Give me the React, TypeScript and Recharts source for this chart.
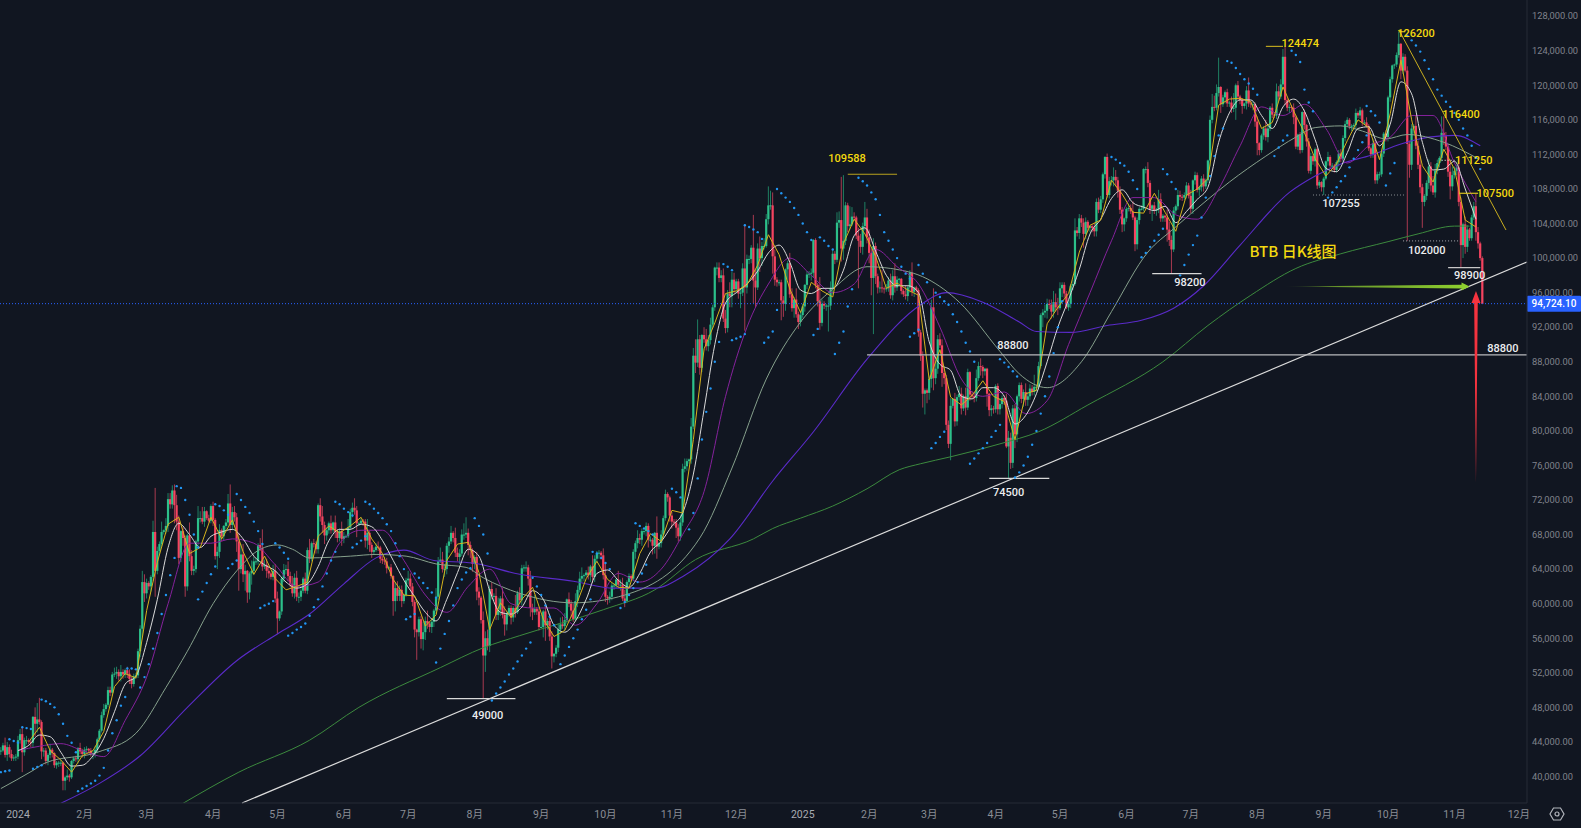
import React from "react";
import { Bar, ComposedChart, Line, ReferenceDot, ReferenceLine, XAxis, YAxis } from "recharts";

// all prices in thousands, days counted from 2024-01-01
const firstDay = -8;
const closes = [
  43.0,43.6,42.5,43.4,42.6,42.1,42.2,42.3,
  44.2,44.9,42.8,44.2,44.2,44.0,43.9,46.9,46.1,46.6,46.3,42.9,43.0,41.8,42.5,43.1,42.7,41.3,41.6,41.6,41.6,39.5,39.9,40.1,39.9,41.8,42.1,42.0,43.3,42.9,42.6,
  43.1,43.2,43.0,42.6,42.7,43.1,44.3,45.3,47.1,47.8,48.3,50.0,49.7,51.8,51.9,52.1,51.6,52.1,51.8,52.3,51.9,51.3,50.7,51.6,51.7,54.5,57.1,62.5,61.2,
  62.4,62.0,63.1,68.3,63.8,66.1,66.9,68.3,68.5,69.0,72.1,71.5,73.1,71.4,69.5,65.3,68.4,67.6,62.0,67.9,65.5,63.8,64.0,67.2,69.9,69.9,69.5,70.7,69.9,69.6,71.3,
  69.7,65.5,66.0,68.5,67.8,69.0,69.4,71.6,69.1,70.6,70.0,67.2,64.0,65.7,63.4,63.8,61.3,63.5,63.8,64.9,64.9,66.8,66.4,64.3,64.5,63.8,63.5,63.1,63.8,60.6,
  58.3,59.1,62.9,63.9,64.0,63.2,62.3,61.2,63.0,60.8,60.8,61.5,62.9,61.5,66.2,65.2,67.0,66.9,66.3,71.4,70.1,69.1,67.9,68.5,69.3,68.5,69.4,68.3,67.6,68.4,67.5,
  67.8,67.8,68.8,70.6,71.1,70.8,69.3,69.3,69.6,69.5,67.3,68.2,66.8,66.0,66.2,66.6,66.5,65.2,65.0,64.9,64.1,64.2,63.2,60.3,61.8,60.9,61.6,60.3,61.0,62.7,
  62.9,62.0,60.2,57.0,56.7,58.2,55.9,56.7,58.0,57.7,57.3,57.9,59.2,60.8,64.9,65.1,64.0,64.0,66.7,67.2,68.2,67.6,65.9,65.4,65.8,68.0,68.0,68.2,66.8,66.2,64.6,
  65.4,61.4,60.7,58.1,54.0,56.0,55.1,61.7,60.9,60.9,58.7,59.3,60.6,58.7,57.6,58.9,59.5,58.4,59.5,59.0,61.2,60.4,64.1,64.2,64.2,62.9,59.5,59.0,59.4,59.1,57.3,
  57.3,59.1,57.5,58.0,56.2,53.9,54.2,54.9,57.0,57.6,57.4,58.1,60.5,60.0,59.2,58.2,60.3,61.6,62.9,63.2,63.3,63.6,63.3,64.3,63.1,65.2,65.8,65.9,65.6,63.3,
  60.8,60.6,60.8,62.1,62.1,62.8,62.2,62.2,60.6,60.3,62.5,63.2,62.9,66.0,67.0,67.6,67.4,68.4,68.4,69.0,67.4,67.4,66.7,68.2,66.6,67.0,68.0,69.9,72.7,72.3,70.2,
  69.5,69.4,68.8,67.8,69.4,75.6,75.9,76.5,76.7,80.5,88.7,87.9,90.6,87.3,91.1,90.6,89.8,90.5,92.3,94.3,98.9,98.9,97.7,98.0,93.0,91.9,95.9,95.6,97.5,96.4,
  97.3,95.9,96.0,98.8,96.6,99.9,99.9,101.2,97.4,96.6,101.1,100.0,101.4,101.4,104.5,106.1,106.1,100.2,97.5,97.2,97.2,95.1,94.7,98.7,99.4,95.8,94.2,95.2,93.5,92.6,93.4,
  94.4,96.9,98.1,98.2,98.3,102.1,96.9,95.0,92.5,94.7,94.5,94.5,94.5,96.5,100.5,99.8,104.1,104.4,101.1,102.0,106.1,103.7,103.9,104.8,104.7,102.6,102.0,101.3,103.7,104.7,102.4,
  100.6,97.7,101.4,97.9,96.6,96.6,96.5,96.4,96.5,97.4,95.7,97.9,96.6,97.5,97.6,96.2,95.8,95.6,96.6,98.3,96.1,96.6,96.3,91.4,88.7,84.3,84.7,84.4,
  86.0,94.3,86.1,87.2,90.6,89.9,86.7,86.1,80.7,78.5,82.9,83.7,81.1,83.9,84.3,82.6,84.0,82.7,86.8,84.2,84.0,83.8,86.1,87.5,87.4,86.9,87.2,84.3,82.4,82.6,82.5,
  85.2,82.5,83.1,83.8,83.5,78.2,79.2,76.3,82.6,79.6,84.0,85.3,83.7,84.5,83.6,84.0,84.9,84.5,85.1,85.1,87.5,93.4,93.7,93.9,94.7,94.6,93.8,94.9,94.3,94.2,
  96.5,96.9,95.9,94.3,94.7,96.8,97.0,103.2,102.9,104.6,104.1,102.8,104.2,103.5,103.7,103.5,103.1,106.5,105.6,106.8,109.7,111.7,107.3,108.9,109.0,109.4,109.0,107.8,105.6,103.9,104.6,
  105.7,105.8,105.4,104.7,101.6,104.4,105.7,105.7,110.3,110.3,108.7,105.7,106.1,105.5,105.6,106.8,104.6,104.9,104.7,103.3,102.1,101.0,105.5,106.0,107.3,107.1,107.0,107.3,108.4,107.2,
  105.7,109.0,109.6,107.9,108.2,109.2,108.3,109.0,111.3,116.0,117.5,117.4,119.1,119.8,117.8,118.6,119.2,117.9,118.0,117.3,117.4,120.0,118.7,118.3,117.6,117.9,119.4,117.9,117.8,117.8,115.8,
  113.3,112.5,114.2,115.0,114.0,115.0,117.4,116.6,116.5,119.3,118.7,120.1,123.3,118.3,117.4,117.5,117.4,116.3,112.9,114.3,112.5,116.9,115.4,113.5,110.1,111.8,111.2,112.6,108.4,108.8,108.2,
  109.2,111.2,111.7,110.7,110.7,110.2,111.1,112.1,111.5,113.9,115.5,116.0,115.3,115.3,115.4,116.8,116.5,117.1,115.7,115.7,115.3,112.7,112.0,113.3,109.0,109.7,109.7,112.1,114.4,114.0,
  118.6,120.7,122.3,122.4,123.5,124.8,121.7,123.3,121.7,113.2,110.8,115.0,115.3,113.0,110.8,108.2,106.5,107.2,108.7,110.6,108.4,107.6,110.1,111.0,111.6,114.5,114.1,112.9,110.0,108.3,109.6,
  110.1,110.5,106.5,101.5,103.9,101.3,103.3,102.3,104.7,106.0,103.0,101.7,100.0,94.7,
];

const upperWicks = [
  .4,.3,.9,.6,.3,.5,.3,.3,
  .5,.6,.7,.3,.5,.2,.3,.1,1.1,1.9,2.5,.2,.3,.3,.2,.7,.2,.1,.2,.2,.3,.1,.2,.7,.2,.1,.2,.3,.1,.6,.3,
  .3,.3,.1,.3,.3,.4,.2,.2,.4,.6,.2,.4,.4,.3,.7,.6,.3,.8,.3,.2,.4,.5,.2,.3,.3,.3,.4,1.3,.9,
  .5,.2,.2,1.3,5.1,.5,.3,1.2,.1,.9,.7,.7,.6,.7,1.2,.7,.1,.5,.3,.2,1.5,.7,.4,.2,1.4,.8,1.3,.5,.1,.4,.2,
  .5,.2,.6,.7,.2,.1,.4,1.1,2.2,.6,.7,.5,1.0,1.2,1.2,.7,.1,.2,1.2,.5,.3,.2,.8,2.2,.6,.7,.5,.2,.7,.8,
  .8,.1,.2,.7,.5,.9,.5,.9,.5,.8,.5,.3,.2,.7,.3,1.3,.2,.5,.3,.2,.8,1.2,.4,.3,.2,.9,.1,.8,.3,.3,1.1,
  .5,.2,1.0,.4,.6,1.1,.5,.2,.3,.2,.3,1.6,.2,.3,.3,.4,.6,.2,.3,.4,.4,.2,.4,.1,.7,.8,.5,.5,.1,.3,
  .9,.6,.4,.2,.1,.3,.4,1.2,.5,1.2,.2,.3,.2,1.0,.5,1.4,.9,.6,.3,.5,.8,.2,1.2,.6,.5,.6,1.3,1.8,.5,.4,.2,
  .2,.6,.5,.2,1.0,.8,1.0,.4,.8,.3,.9,1.4,.3,1.2,1.0,.2,.3,.3,.2,1.5,.3,.7,.4,.3,.7,.3,.9,.5,1.6,.2,.3,
  1.4,.2,.8,.3,.5,.6,.1,.3,.7,.8,.9,.8,.1,.8,.4,.8,.9,.5,.8,1.0,.2,.3,.7,.2,1.3,.4,.3,.3,.2,.8,
  1.4,.2,.6,.3,.3,.1,1.0,.6,.8,1.0,.2,.3,.2,.3,.3,.9,.5,.3,.1,.4,.3,.4,.2,.1,1.9,.2,.5,.3,.5,.2,.2,
  .4,.3,.4,.4,.9,.6,.9,.3,.1,1.0,.9,1.9,2.3,.5,.1,.9,1.2,.6,.8,.3,.1,.6,.6,.6,.8,1.0,.4,1.3,.9,.8,
  .3,.3,.3,.6,5.1,.5,.4,.3,3.8,1.3,.6,1.4,.5,.9,.6,2.2,1.7,1.5,.8,.3,.3,.3,.5,.1,.3,1.2,.7,.3,1.3,.3,.5,
  .3,.1,.4,.3,.5,.1,.2,.2,2.8,.5,.3,.2,1.0,.8,.4,.3,1.2,1.0,5.0,7.6,.4,.3,2.1,1.1,.5,.2,.9,.8,.4,1.8,1.0,
  .9,.5,.9,.4,.3,.7,2.0,.2,.5,.4,.8,.7,1.5,.4,.1,.1,.2,1.0,.3,.3,1.2,.1,.2,.2,.3,.5,.2,.2,
  .4,.9,2.2,1.5,.5,.7,.7,.6,.4,.5,.9,.1,.7,.3,.9,.7,.2,1.0,.4,.1,.4,.5,1.0,.5,.9,.2,.1,.1,.1,.4,.3,
  .2,.3,.7,.3,.3,.8,.8,.6,.4,.5,.2,.3,.3,.3,1.0,.5,.5,.4,1.4,.3,.5,.2,.4,.7,.6,.5,.6,1.3,1.0,1.1,
  .7,.3,.3,.3,.3,.2,.5,1.4,.4,.5,.4,.5,.5,.2,.1,.2,.6,.4,.5,.4,.2,.1,.4,.5,.5,1.1,.8,.4,.5,.3,.1,
  .2,.5,.4,1.2,.2,.3,.2,.4,.1,.3,.8,.3,.1,.4,.2,1.1,.7,.2,.1,.9,.9,.5,.4,.2,.6,.5,.3,.3,.4,.3,
  .7,.1,.4,.3,.2,.3,.5,.2,.1,.5,1.5,1.3,1.0,3.4,.1,.3,.2,.4,.2,.7,1.7,.2,.5,.2,.2,.1,.5,1.5,.3,.4,.2,
  .6,.1,.2,.3,1.0,.5,.2,.5,.1,.9,.6,.6,.9,1.2,.2,.3,.2,.5,.2,.1,.3,.1,.3,.1,.4,.4,.2,.2,.2,.2,.1,
  .2,.1,.6,.2,.3,.2,.2,.4,.5,.3,.4,.3,.2,.2,.2,.5,.2,.4,.2,.3,.6,.2,.2,.5,.4,.3,.3,.2,.2,.4,
  .2,.3,.1,.1,.3,1.4,.1,.4,.3,.5,.4,.5,.2,1.2,.6,1.0,.4,.2,.3,.8,.5,1.1,.8,.4,.2,1.9,1.9,.5,.3,1.4,1.0,
  .5,.3,1.3,.5,.2,.9,.5,.2,.3,.5,1.5,.6,.2,.2,
];

const lowerWicks = [
  .5,.2,.3,.7,.4,.3,.3,.4,
  .3,.4,2.3,.4,.5,.3,.5,.6,1.5,1.0,.3,.9,.6,.4,.5,.4,.5,.3,.4,.5,.4,1.1,1.1,.3,.5,.2,.3,.3,.5,.3,.4,
  .5,.4,.2,.3,.6,.5,.4,.3,.2,.3,.3,.3,.4,.4,.3,.6,.5,.6,.5,.4,.5,.6,.5,.3,.3,.3,.7,.9,1.0,
  .6,.4,.6,.5,3.0,.4,.5,.3,.3,.4,.7,.5,.5,2.1,1.0,.7,.5,.9,1.2,.5,.6,.5,.5,.4,.5,.5,.3,.6,.2,.2,.3,
  .7,.4,1.5,.7,.6,.5,.5,.5,.9,.6,.5,1.2,2.5,.5,.9,1.9,1.2,.8,1.3,.5,.4,.4,.3,.5,.3,.8,.6,.3,.4,.5,
  1.8,.3,.4,.4,.5,.6,.4,.4,.6,.5,.7,.5,.3,.3,.4,.5,.3,.4,.5,.5,.6,.9,1.0,.6,.4,.4,.3,.7,.5,.4,.8,
  .5,.2,.2,.3,.6,.5,1.6,.3,.2,.5,.8,1.0,.8,.7,.3,.2,.4,.5,.4,.4,.6,.2,.3,1.7,1.2,.6,.6,.7,.3,.2,
  .5,.4,.5,.9,3.2,.5,1.1,1.3,.9,.6,.6,.7,.6,.4,.4,.2,.4,.9,.6,.8,.3,.5,.5,.5,.8,.3,.6,.4,1.2,.9,.9,
  .6,1.0,.9,.4,5.0,1.9,.5,.7,.4,.6,.6,.6,.7,.4,1.3,.7,.4,.8,.5,.6,.2,.4,.6,.4,.5,.8,1.0,.9,.3,.4,.4,
  .1,1.2,1.8,.5,.5,1.4,.7,.4,.5,.5,.3,.5,.4,.4,.8,.3,.2,.7,.3,.4,.6,.2,.5,.8,.7,.6,.4,.6,.5,.5,
  .6,.7,.5,.4,.5,.3,.4,.7,.3,.7,.2,.4,.3,.3,.8,.6,.5,.7,.4,.6,.9,.3,1.0,.9,1.4,.3,.5,.5,.3,.5,.7,
  .8,.4,1.2,.6,.5,.4,.4,.5,.3,.5,.3,1.2,.5,.8,.5,.4,.5,.6,.5,.4,.4,.9,.5,.5,.4,.6,.5,1.3,1.3,.5,
  .5,.6,1.7,.4,5.0,.7,.6,.5,2.6,2.3,.3,1.6,.9,.4,.2,.6,.5,2.0,.7,.5,.4,2.3,1.5,.8,1.2,.4,.4,1.1,.4,.8,.5,
  .3,.6,.5,.4,.8,.6,.4,.6,.8,.4,.4,.6,3.0,.5,.7,.5,.3,.6,1.5,1.3,.5,.7,.4,.2,.4,.4,5.5,.7,.9,.5,.7,
  1.2,2.0,6.5,.9,.7,.6,.5,.5,.3,.4,.4,.6,.6,.4,.5,.4,.3,.4,.6,.6,.5,.6,.3,.5,.6,1.6,2.4,1.2,
  .8,1.0,1.4,.7,.6,.3,1.6,.7,.6,.5,1.9,.3,.6,.5,.4,.7,.3,.9,.3,.7,.3,.5,.4,.3,1.0,.8,.5,1.5,.7,.7,.5,
  .4,.6,.6,.5,.5,.2,3.7,.7,.6,1.6,.9,.6,.5,.9,.7,.7,.4,.4,.4,.5,.3,.3,1.4,.6,.9,.5,.8,.7,.5,.8,
  .2,1.0,.5,.2,.4,.5,.5,.2,.4,.7,.5,1.6,.6,.4,.5,.5,.6,.6,.4,.4,.4,.5,.3,.4,.5,.7,.7,.8,.5,.9,.8,
  .4,.3,.3,.3,.8,.6,.5,.2,.3,.5,.5,.6,1.4,.4,.6,.4,.4,.4,.5,1.4,.7,2.8,.3,.4,.4,.4,.4,.3,.4,.3,
  .5,.6,.5,.3,.7,.5,.6,.3,.3,.7,.4,.4,.3,.4,1.0,.3,.7,.4,.4,.5,.4,1.4,.4,.5,.9,.3,.7,.4,.4,.7,.6,
  1.4,.6,.3,.5,.4,.6,.3,.4,.3,.4,.5,.3,.4,.6,.4,.6,.5,.8,.3,.4,.4,.3,.5,.6,.3,.4,.4,.6,.4,.3,.5,
  .9,.2,.5,.3,.4,.3,.3,.5,.4,.4,.4,.3,.4,.6,.5,.4,.3,.4,.4,.3,.2,.3,.4,.4,.4,.4,.5,.3,.4,.5,
  .5,.5,.4,.4,.3,.3,1.0,.4,.2,11.2,1.5,.6,.6,.4,.5,.7,3.0,.5,.5,.7,.7,.3,.6,.4,.5,.4,1.0,.4,.6,1.5,.5,
  .4,.5,.5,2.6,1.5,.8,.6,.3,.3,.3,1.0,.6,.3,0,
];

const yellowStart = 5;
const yellowValues = [
  44.0,45.7,43.0,41.9,40.5,42.4,43.0,45.2,50.4,51.9,51.4,59.2,64.8,69.2,70.0,65.8,66.5,70.0,67.5,69.7,66.0,63.4,65.5,62.9,61.6,62.0,62.5,67.8,69.0,68.2,69.0,70.0,67.5,65.8,62.8,61.0,60.9,57.4,58.7,65.0,66.9,67.1,63.6,57.0,60.1,58.4,60.5,61.9,58.2,56.2,56.9,59.6,62.9,64.9,62.8,61.9,61.8,65.8,68.1,67.2,70.8,70.5,79.0,89.5,92.5,95.9,96.2,96.9,99.2,102.7,100.4,96.4,93.7,97.2,96.2,95.5,101.7,104.5,102.8,100.2,96.5,97.1,96.3,95.7,85.9,89.4,83.9,83.0,84.1,85.8,84.0,83.4,79.0,84.3,84.7,92.4,94.3,95.9,100.7,103.8,104.4,109.0,107.4,105.3,105.2,107.5,105.3,103.1,107.3,108.0,109.2,117.7,118.4,118.5,118.1,115.0,115.7,119.8,117.0,114.5,111.5,109.5,110.9,113.6,116.0,115.1,111.4,116.7,122.9,116.0,110.7,108.8,112.6,110.3,104.4,103.6,
];

const whiteStart = 0;
const whiteValues = [
  43.0,43.6,44.8,44.6,42.8,41.2,41.3,42.4,44.4,47.5,50.7,51.6,55.5,60.5,66.5,69.3,68.0,66.5,67.8,68.3,68.6,67.5,65.5,64.5,63.8,62.5,61.8,62.3,64.3,67.3,68.6,68.6,69.2,68.9,67.3,65.0,62.7,60.8,59.0,58.0,60.5,63.6,66.3,65.5,61.5,59.0,58.8,59.6,61.5,60.5,57.5,56.7,58.0,60.5,63.5,63.9,62.7,61.9,63.5,66.0,67.2,69.0,70.5,75.0,82.5,90.0,94.8,96.0,97.0,98.5,100.6,101.5,99.5,96.3,95.9,96.5,96.5,98.6,102.6,103.5,100.8,98.0,96.8,96.8,96.0,90.3,87.7,87.0,84.0,83.7,85.0,85.0,84.0,80.8,81.8,84.3,88.0,92.0,95.2,98.7,102.8,104.5,106.9,107.9,106.4,105.9,105.5,106.0,104.1,105.4,106.8,108.2,113.4,116.8,118.3,118.3,116.5,115.0,117.5,118.4,117.0,113.7,110.4,110.0,112.2,115.0,115.2,113.0,115.5,120.4,119.0,113.4,110.2,110.3,111.2,108.0,104.5,
];

const purpleStart = 0;
const purpleValues = [
  43,43.5,43.8,43,42.3,46.5,51.5,60,67,67,67.5,67,64.5,62,62.5,67,68.5,68.5,65,61,59,62,64,60,59.5,59.5,57.5,60,63.5,62.5,64,68,73,84,92,97,100,98,96,97,101,99,97,92,86,84,84.5,82,83.5,90,96,102,107,107,105,104.5,108,113,117.5,116.5,117.8,115,111,113,114,116.5,116.5,111,106.5,
];

const greyDays = [-8,7,13,37,55,69,79,91,102,113,121,128,136,155,167,181,195,209,217,234,259,283,318,333,349,365,380,396,407,424,439,458,467,480,496,510,527,539,555,565,582,596,605,617,627,638,648,665,681];
const greyValues = [38.6,40.7,41.6,42.8,45,50.3,54.5,60,63.8,66.3,66.8,66.3,65.3,65.5,65.7,65.5,64.6,64.2,63,61.2,60.1,61,67.6,75.7,86,92.6,96.4,99,98.8,97.6,94.9,89.2,86.6,85,88,93.8,100.7,103.4,106.8,108.8,111.8,114,115.1,115.3,114.7,113.8,114.3,113.4,111.5];

const violetDays = [20,38,57,79,102,121,136,152,167,180,194,212,234,259,278,297,311,332,352,371,396,421,433,450,467,475,491,508,524,539,553,570,593,605,617,631,645,658,670,682];
const violetValues = [36.9,39.2,42.4,48,53.4,56.5,58.8,62.3,65.3,66.2,65,64.7,63.4,62.6,61.8,61.8,63.3,67.5,74.2,79.9,88.3,94.6,96,94.9,92.6,91.5,91.4,92.2,92.8,94.2,96.8,101.5,107.6,109.5,110.9,111.9,113.2,114,114.2,113];

const greenDays = [77,103,136,159,197,217,234,273,297,316,343,352,365,380,396,411,421,435,458,476,499,534,555,575,596,617,639,653,670,677];
const greenValues = [36.9,40.5,44.2,48,52.6,54.9,56.3,59.3,61.6,65.1,67.5,68.7,69.9,71.3,73.3,75.5,76.2,77,78.5,79.9,83,88,92.2,95.7,98.8,100.5,101.9,102.8,103.7,103.7];

// parabolic SAR dots, one run per [start day, value every 2 days]
const sarAbove: [number, number[]][] = [
  [-4,[44.3,44.1,43.9]],[2,[45.7,45.6,45.5]],[11,[48.9,48.7,48.4,48,47.2,46.1,44.7,43.9,42.8]],[51,[52.5,52.5,52.4]],
  [74,[73.6,73.4,72,70.3,68,66.5]],[92,[71.5,71.3,70.8,70.3]],[102,[72.7,72,71.2,70.5,69.5,68.4,66.9]],[120,[67,66.5,65.9,65.2]],
  [148,[71.8,71.5,71,70.6,70.2]],[162,[71.8,71.5,71,70.5,69.9,69.2,68.4,67,65.5,64]],[185,[63.5,63,62.4,61.8,61.3,60.7]],[213,[69.9,69,68,65.8]],
  [240,[63,62,61,59.8,58.5,57.5]],[268,[66,65.8,65.3,64.7,64]],[288,[69.3,69,68.7,68.4,68]],[305,[73.3,72.9,72.3]],[329,[99.3,99,98.6]],
  [339,[103.8,103.6,103.3,103,102.2]],[354,[108,107.5,107,106.5,105.8,105,104,103,102.1]],[374,[102.4,102,101.4,101]],
  [392,[109.3,108.9,108.4,107.6,106.8,105,103,102,101,100,99,98.2,97.6]],[420,[99.2,98.2,97.2]],[428,[96,95.5,95,94.6,93.5,92.6,91.5,90.2,89.2,88]],
  [458,[88.3,87.9,87.4,86.9,86.3]],[510,[111.7,111.4,111,110.7,110,109,108]],[534,[110.3,109.7,108.8,108]],
  [564,[122.8,122.6,122,121.3,120.7,120.2,119.6,118.9]],[594,[124,123.5,122.7,119.5,118,117]],[629,[117.6,117,116.5,115.7]],
  [648,[125.7,125.2,124.6,123.9,122.9,121.9,120.7,119.5,118.8,118.1,117.5,116.8,116,115,114.2,113,111.6,110.3]],
];
const sarBelow: [number, number[]][] = [
  [-8,[40.5,40.6,40.7]],[7,[40.9,41.1,41.3]],[28,[38.3,38.6,38.9,39.2,39.5,40.1,41,43,45,46.5,48.2,49.2]],[57,[50.3,51.5,53,54.8,56.6,58.8,61,63.3,65.3]],
  [84,[60.5,61.4,62.4,63.4,64.3]],[98,[64.1,64.6,65]],[113,[59.5,59.8,60,60.3]],[126,[56.3,56.6,57,57.3,57.7,58.6,59.6,60.5,62,63.5,65,66]],
  [156,[66.5,66.9,67.3,67.8]],[181,[58.2,58.5,58.8]],[195,[53.2,54.8,56.5,58,59.8,61.8,62.8,63.6,64.1]],[221,[48.8,49.6,50.3,51,51.8,52.5,53.3,54,54.8,55.5]],
  [253,[53,54,55,56,57,58.2,59.3,60.5]],[281,[59.5,60.2,61,61.8,62.5,63.5,64.5]],[313,[68.6,70.5,74.5,79,82.2,84.9,88,90.3]],[333,[90.5,90.7,90.9,91.2]],
  [348,[90.2,90.8,91.5,94]],[371,[91.1,91.8]],[381,[88.9,90.2,91.5,94.4,96.4]],[416,[90.9,91.3,91.7]],[426,[78,78.6,79.3,79.9]],
  [444,[76.2,76.8,77.4,78,78.6,79.3,80,80.7]],[465,[74.6,75.2,76,77,78.4,80,82,84,86.3,89,92,95]],[524,[100.1,100.6,101.3,102,102.7,103.4]],
  [542,[98,99.2,100.4,101.5,102.6,104.7,107,109.5,111.8,114.2,115]],[586,[111.8,112.8,113.6,114.2]],[611,[107,107.6,108.2,108.9,109.5,110.5,111.5,112.5,113.4,114.2]],
  [638,[108.4,109.8,111]],
];

const monthDays = [0,31,60,91,121,152,182,213,244,274,305,335,366,397,425,456,486,517,547,578,609,639,670,700];
const monthLabels = ["2024","2月","3月","4月","5月","6月","7月","8月","9月","10月","11月","12月","2025","2月","3月","4月","5月","6月","7月","8月","9月","10月","11月","12月"];
const priceTicks = [40,44,48,52,56,60,64,68,72,76,80,84,88,92,96,100,104,108,112,116,120,124,128];

const lastPrice = 94.7241;
const yellowText = "#f4d90f";
const whiteText = "#ecedef";

// hand drawn levels: from day, to day, price, colour, dash
const levels: [number, number, number, string, string?][] = [
  [387,410,109.7,"#b9a21e"],[200,232,49,"#d8d8d8"],[453,481,74.5,"#d8d8d8"],[529,552,98.2,"#d8d8d8"],[582,590,124.5,"#b9a21e"],
  [644,647,126.2,"#d9c21e"],[604,647,107.3,"#8a8d93","1 2"],[646,672,102,"#8a8d93","1 2"],[667,682,98.9,"#c8c8c8"],[672,681,107.5,"#d9c21e"],
  [664,670,111.3,"#c8c8c8","1 2"],
];
const annotations: [string, number, number, string][] = [
  ["109588",386.7,111.6,yellowText],["88800",464,89.9,whiteText],["88800",692.6,89.6,whiteText],["74500",462,72.9,whiteText],
  ["49000",219,47.1,whiteText],["98200",546.6,97.2,whiteText],["107255",617,106.4,whiteText],["102000",657,100.9,whiteText],
  ["98900",677,98,whiteText],["124474",598,124.9,yellowText],["126200",652,126,yellowText],["116400",673,116.7,yellowText],
  ["111250",679,111.3,yellowText],["107500",689,107.5,yellowText],
];

const rows: any[] = closes.map((close, i) => {
  const open = i > 0 ? closes[i - 1] : close;
  const high = Math.max(open, close) + (upperWicks[i] ?? 0.5);
  const low = Math.min(open, close) - (lowerWicks[i] ?? 0.5);
  return { day: firstDay + i, open, close, high, low, range: [low, high] };
});
const byDay = new Map(rows.map((r) => [r.day, r]));
const put = (day: number, key: string, value: number) => {
  const row = byDay.get(day);
  if (row) row[key] = value;
};
yellowValues.forEach((v, i) => put(yellowStart + i * 5, "yellow", v));
whiteValues.forEach((v, i) => put(whiteStart + i * 5, "white", v));
purpleValues.forEach((v, i) => put(purpleStart + i * 10, "purple", v));
greyDays.forEach((d, i) => put(d, "grey", greyValues[i]));
violetDays.forEach((d, i) => put(d, "violet", violetValues[i]));
greenDays.forEach((d, i) => put(d, "green", greenValues[i]));
sarAbove.forEach(([start, vals]) => vals.forEach((v, i) => put(start + i * 2, "sarUp", v)));
sarBelow.forEach(([start, vals]) => vals.forEach((v, i) => put(start + i * 2, "sarDown", v)));

function Candle(props: any) {
  const { x, y, width, height, payload } = props;
  const cx = x + width / 2;
  const top = Math.min(y, y + height);
  const h = Math.abs(height);
  const perK = h / (payload.high - payload.low || 1);
  const yAt = (p: number) => top + (payload.high - p) * perK;
  const up = payload.close >= payload.open;
  const bodyTop = yAt(Math.max(payload.open, payload.close));
  const bodyBottom = yAt(Math.min(payload.open, payload.close));
  return (
    <g>
      <rect x={cx - 0.5} y={top} width={1} height={h} fill={up ? "#1f7f62" : "#a83a50"} />
      <rect x={cx - 1.1} y={bodyTop} width={2.2} height={Math.max(bodyBottom - bodyTop, 1)} fill={up ? "#2cc08a" : "#f5435f"} />
    </g>
  );
}

function GreenArrow(props: any) {
  const { x1, y1, x2 } = props;
  return (
    <g>
      <defs>
        <linearGradient id="arrowFade" x1="0" x2="1" y1="0" y2="0">
          <stop offset="0" stopColor="#8fcf2f" stopOpacity={0} />
          <stop offset="0.3" stopColor="#8fcf2f" stopOpacity={0.7} />
          <stop offset="1" stopColor="#8fd12f" />
        </linearGradient>
      </defs>
      <polygon
        points={`${x1},${y1} ${x2 - 8},${y1 - 1.8} ${x2 - 8},${y1 - 4} ${x2},${y1} ${x2 - 8},${y1 + 4} ${x2 - 8},${y1 + 1.8}`}
        fill="url(#arrowFade)"
      />
    </g>
  );
}

function RedArrow(props: any) {
  const { x1, y1, y2 } = props;
  const tip = Math.min(y1, y2);
  const tail = Math.max(y1, y2);
  return (
    <polygon
      points={`${x1},${tip} ${x1 + 4.5},${tip + 12} ${x1 + 1.8},${tip + 12} ${x1},${tail} ${x1 - 1.8},${tip + 12} ${x1 - 4.5},${tip + 12}`}
      fill="#f5333f"
    />
  );
}

function PriceTag(props: any) {
  const { x1, x2, y1 } = props;
  const left = Math.min(x1, x2);
  const right = Math.max(x1, x2);
  return (
    <g>
      <line x1={left} x2={right} y1={y1} y2={y1} stroke="#2962ff" strokeDasharray="1 2" />
      <rect x={right} y={y1 - 8} width={54} height={16} rx={1} fill="#2962ff" />
      <text x={right + 27} y={y1 + 3.5} fill="#fff" fontSize={10} fontWeight={500} textAnchor="middle" fontFamily="Roboto">
        94,724.10
      </text>
    </g>
  );
}

function MonthTick(props: any) {
  const { x, y, payload } = props;
  const label = monthLabels[monthDays.indexOf(payload.value)];
  const isYear = label.length === 4;
  return (
    <text x={x} y={y + 7} textAnchor="middle" fontSize={10.5} fill={isYear ? "#a9acb3" : "#8b8e96"} fontFamily="Roboto, 'Noto Sans CJK SC'">
      {label}
    </text>
  );
}

export default function App() {
  return (
    <div style={{ position: "absolute", left: 0, top: 0, width: 1581, height: 828, background: "#111621", overflow: "hidden" }}>
      <ComposedChart width={1581} height={828} data={rows} margin={{ top: 0, right: 0, bottom: 0, left: 0 }}>
        <XAxis
          dataKey="day"
          type="number"
          domain={[-8.4, 703.8]}
          allowDataOverflow
          ticks={monthDays}
          interval={0}
          height={25}
          tick={<MonthTick />}
          tickLine={false}
          axisLine={{ stroke: "#262b36" }}
        />
        <YAxis
          orientation="right"
          type="number"
          domain={[36.93, 129.87]}
          allowDataOverflow
          ticks={priceTicks}
          interval={0}
          width={54}
          tickSize={0}
          tickMargin={5}
          tickFormatter={(v: number) => `${v},000.00`}
          tick={{ fill: "#80838c", fontSize: 9.3, fontFamily: "Roboto", textAnchor: "start" }}
          axisLine={{ stroke: "#262b36" }}
          tickLine={false}
        />
        <Bar dataKey="range" barSize={2} shape={<Candle />} isAnimationActive={false} />
        <Line dataKey="green" type="monotone" stroke="#3c8a3e" strokeWidth={1} dot={false} activeDot={false} connectNulls isAnimationActive={false} />
        <Line dataKey="violet" type="monotone" stroke="#5a2bc9" strokeWidth={1.1} dot={false} activeDot={false} connectNulls isAnimationActive={false} />
        <Line dataKey="grey" type="monotone" stroke="#86a08c" strokeWidth={1} dot={false} activeDot={false} connectNulls isAnimationActive={false} />
        <Line dataKey="purple" type="monotone" stroke="#85229c" strokeWidth={1} dot={false} activeDot={false} connectNulls isAnimationActive={false} />
        <Line dataKey="white" type="monotone" stroke="#d9d9d9" strokeWidth={1} dot={false} activeDot={false} connectNulls isAnimationActive={false} />
        <Line dataKey="yellow" stroke="#d6b31c" strokeWidth={1} dot={false} activeDot={false} connectNulls isAnimationActive={false} />
        <Line dataKey="sarUp" stroke="none" dot={{ r: 1.2, fill: "#2196f3", stroke: "none" }} activeDot={false} isAnimationActive={false} />
        <Line dataKey="sarDown" stroke="none" dot={{ r: 1.2, fill: "#2196f3", stroke: "none" }} activeDot={false} isAnimationActive={false} />

        <ReferenceLine y={lastPrice} shape={<PriceTag />} />
        <ReferenceLine segment={[{ x: 104.5, y: 36.93 }, { x: 703.8, y: 99.55 }]} stroke="#dcdcdc" strokeWidth={1.2} />
        <ReferenceLine segment={[{ x: 396, y: 88.8 }, { x: 703.8, y: 88.8 }]} stroke="#b9babd" strokeWidth={1.2} />
        <ReferenceLine segment={[{ x: 644.5, y: 126.2 }, { x: 694, y: 103.25 }]} stroke="#c9ae1f" strokeWidth={1} />
        {levels.map((l, i) => (
          <ReferenceLine key={i} segment={[{ x: l[0], y: l[2] }, { x: l[1], y: l[2] }]} stroke={l[3]} strokeWidth={1.2} strokeDasharray={l[4]} />
        ))}
        <ReferenceLine segment={[{ x: 590, y: 96.7 }, { x: 677, y: 96.7 }]} shape={<GreenArrow />} />
        <ReferenceLine segment={[{ x: 680, y: 96.2 }, { x: 680, y: 74 }]} shape={<RedArrow />} />
        {annotations.map((a, i) => (
          <ReferenceDot
            key={i}
            x={a[1]}
            y={a[2]}
            r={0}
            stroke="none"
            label={{ value: a[0], position: "center", fill: a[3], fontSize: 11, fontWeight: 500, fontFamily: "Roboto" }}
          />
        ))}
        <ReferenceDot
          x={594.7}
          y={100.7}
          r={0}
          stroke="none"
          label={{ value: "BTB 日K线图", position: "center", fill: yellowText, fontSize: 15, fontWeight: 500, fontFamily: "'Noto Sans CJK SC'" }}
        />
      </ComposedChart>
      <svg style={{ position: "absolute", left: 1549, top: 806 }} width={16} height={16} viewBox="0 0 16 16">
        <polygon points="4.5,2 11.5,2 15,8 11.5,14 4.5,14 1,8" fill="none" stroke="#b2b5bc" strokeWidth={1.2} />
        <circle cx={8} cy={8} r={2} fill="none" stroke="#b2b5bc" strokeWidth={1.2} />
      </svg>
    </div>
  );
}
